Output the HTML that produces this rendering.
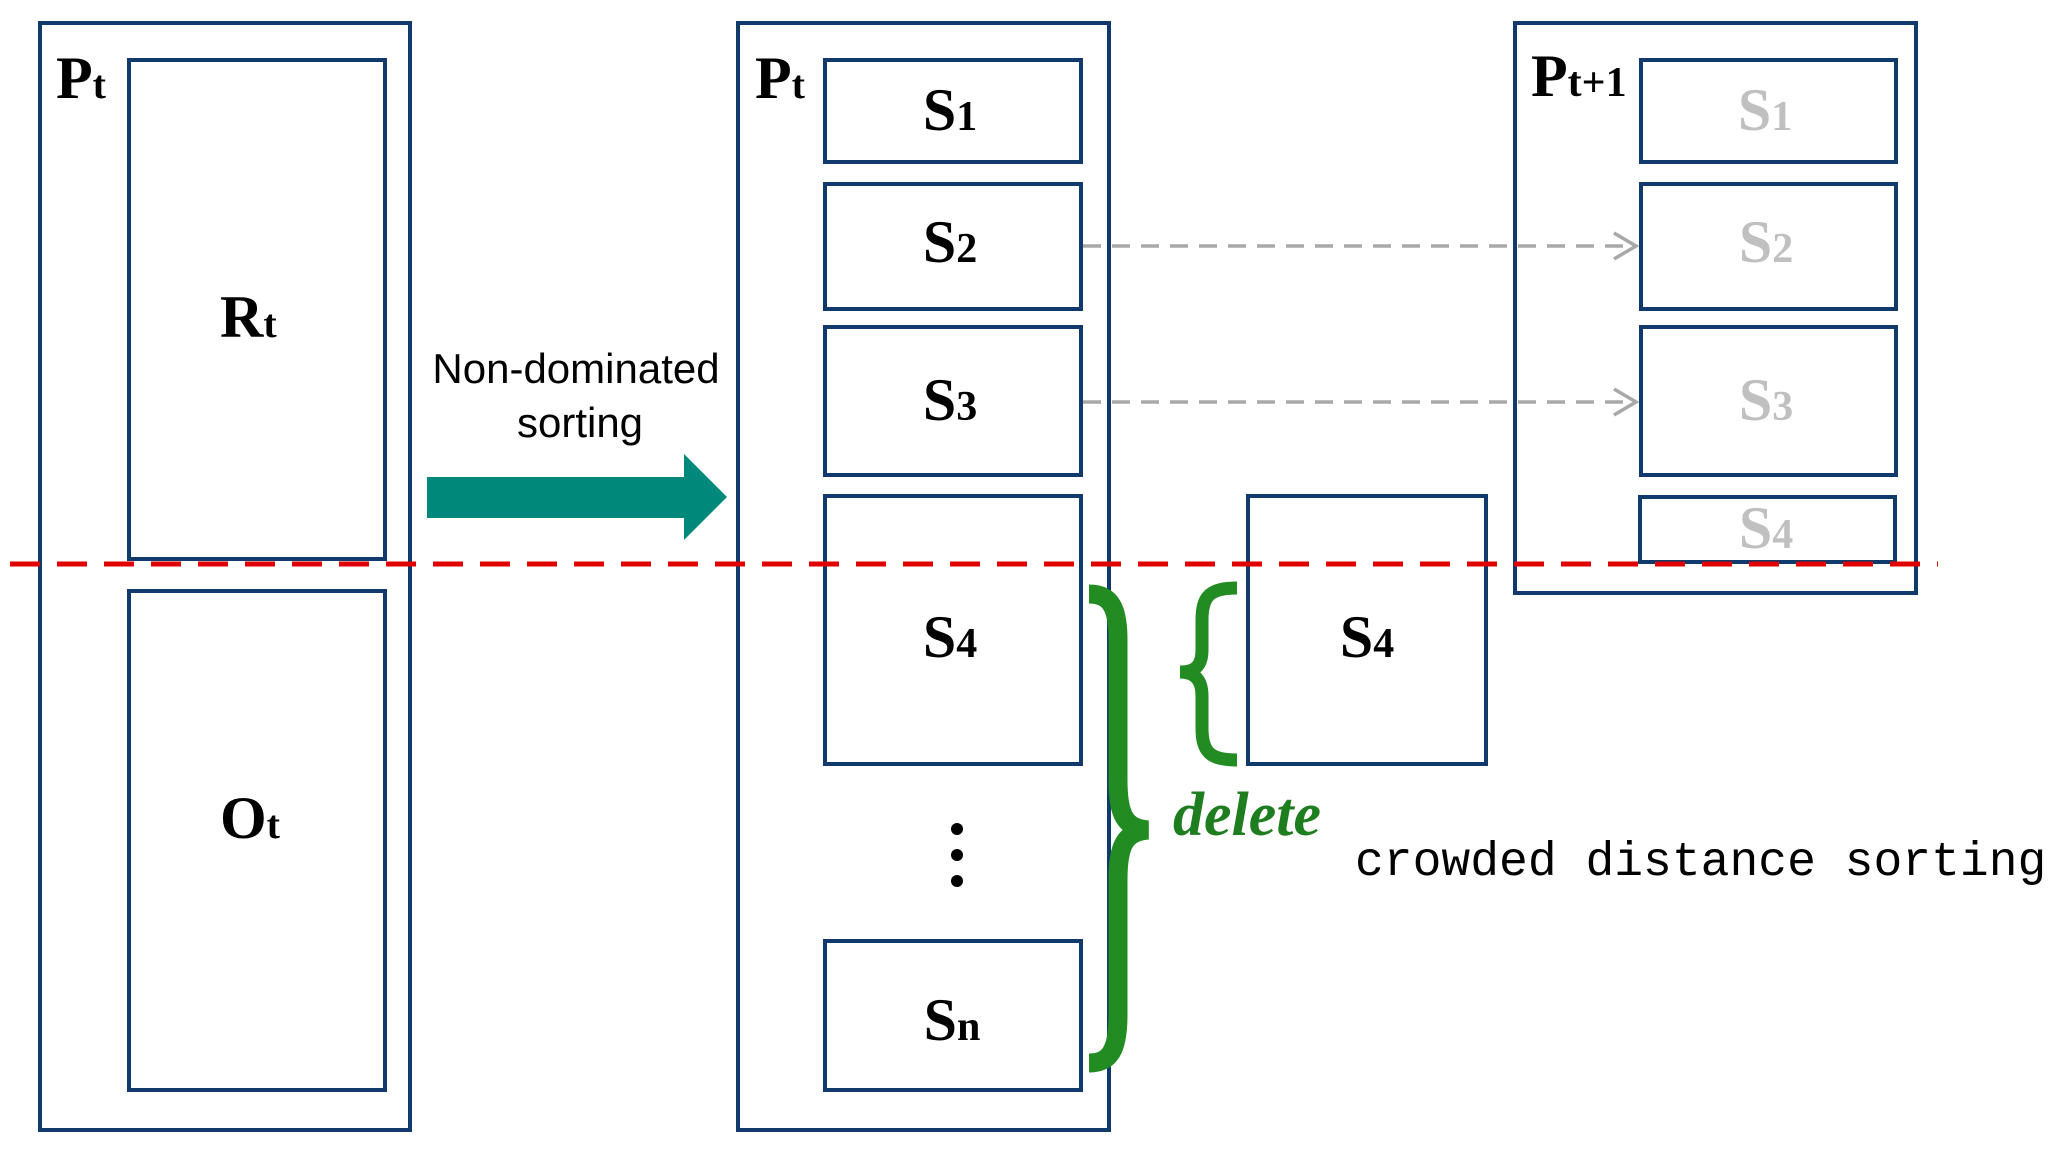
<!DOCTYPE html>
<html><head><meta charset="utf-8"><style>
html,body{margin:0;padding:0;background:#fff;}
svg{display:block;}
.b{fill:none;stroke:#0f3a6b;stroke-width:4;}
.lab{font-family:"Liberation Serif",serif;font-weight:bold;fill:#000;}
.g{fill:#c0c0c0;}
</style></head><body>
<svg width="2055" height="1149" viewBox="0 0 2055 1149" xmlns="http://www.w3.org/2000/svg">
<rect class="b" x="40" y="23" width="370" height="1107"/>
<rect class="b" x="129" y="60" width="256" height="499"/>
<rect class="b" x="129" y="591" width="256" height="499"/>
<text class="lab" x="56" y="98" font-size="60">P<tspan font-size="40">t</tspan></text>
<text class="lab" x="220" y="337" font-size="60">R<tspan font-size="40">t</tspan></text>
<text class="lab" x="220" y="838" font-size="60">O<tspan font-size="40">t</tspan></text>

<text x="576" y="383" font-family="Liberation Sans, sans-serif" font-size="42" text-anchor="middle" fill="#000">Non-dominated</text>
<text x="580" y="437" font-family="Liberation Sans, sans-serif" font-size="42" text-anchor="middle" fill="#000">sorting</text>
<polygon points="427,477 684,477 684,454 727,497 684,540 684,518 427,518" fill="#00897b"/>

<rect class="b" x="738" y="23" width="371" height="1107"/>
<text class="lab" x="755" y="98" font-size="60">P<tspan font-size="40">t</tspan></text>
<rect class="b" x="825" y="60" width="256" height="102"/>
<rect class="b" x="825" y="184" width="256" height="125"/>
<rect class="b" x="825" y="327" width="256" height="148"/>
<rect class="b" x="825" y="496" width="256" height="268"/>
<rect class="b" x="825" y="941" width="256" height="149"/>
<text class="lab" x="950" y="130" font-size="60" text-anchor="middle">S<tspan font-size="42">1</tspan></text>
<text class="lab" x="950" y="262" font-size="60" text-anchor="middle">S<tspan font-size="42">2</tspan></text>
<text class="lab" x="950" y="420" font-size="60" text-anchor="middle">S<tspan font-size="42">3</tspan></text>
<text class="lab" x="950" y="657" font-size="60" text-anchor="middle">S<tspan font-size="42">4</tspan></text>
<text class="lab" x="952" y="1040" font-size="60" text-anchor="middle">S<tspan font-size="42">n</tspan></text>
<circle cx="957" cy="829" r="6" fill="#000"/>
<circle cx="957" cy="855" r="6" fill="#000"/>
<circle cx="957" cy="881" r="6" fill="#000"/>

<g stroke="#a8a8a8" stroke-width="3.5" fill="none">
<line x1="1083" y1="246" x2="1634" y2="246" stroke-dasharray="18,11"/>
<line x1="1083" y1="402" x2="1634" y2="402" stroke-dasharray="18,11"/>
<polyline points="1614,233 1636,246 1614,259"/>
<polyline points="1614,389 1636,402 1614,415"/>
</g>

<rect class="b" x="1515" y="23" width="401" height="570"/>
<text class="lab" x="1531" y="96" font-size="60">P<tspan font-size="42">t+1</tspan></text>
<rect class="b" x="1641" y="60" width="255" height="102"/>
<rect class="b" x="1641" y="184" width="255" height="125"/>
<rect class="b" x="1641" y="327" width="255" height="148"/>
<rect class="b" x="1640" y="497" width="255" height="65"/>
<text class="lab g" x="1765" y="130" font-size="60" text-anchor="middle">S<tspan font-size="42">1</tspan></text>
<text class="lab g" x="1766" y="262" font-size="60" text-anchor="middle">S<tspan font-size="42">2</tspan></text>
<text class="lab g" x="1766" y="420" font-size="60" text-anchor="middle">S<tspan font-size="42">3</tspan></text>
<text class="lab g" x="1766" y="548" font-size="60" text-anchor="middle">S<tspan font-size="42">4</tspan></text>

<rect class="b" x="1248" y="496" width="238" height="268"/>
<text class="lab" x="1367" y="657" font-size="60" text-anchor="middle">S<tspan font-size="42">4</tspan></text>

<line x1="10" y1="564" x2="1938" y2="564" stroke="#e00000" stroke-width="5" stroke-dasharray="30,17"/>

<path d="M1237,588 C1210,588 1202,596 1202,620 L1202,650 C1202,666 1195,672 1180,672 C1195,672 1202,680 1202,696 L1202,728 C1202,752 1210,760 1237,760" fill="none" stroke="#228b22" stroke-width="13"/>
<path d="M1089,594 C1112,594 1118,610 1118,640 L1118,780 C1118,815 1125,828 1148,830 C1125,832 1118,845 1118,880 L1118,1015 C1118,1050 1110,1063 1089,1063" fill="none" stroke="#228b22" stroke-width="19"/>

<text x="1173" y="835" font-family="Liberation Serif, serif" font-style="italic" font-weight="bold" font-size="62" fill="#1e7d1e">delete</text>
<text x="1355" y="875" font-family="Liberation Mono, monospace" font-size="48" fill="#000">crowded distance sorting</text>
</svg>
</body></html>
